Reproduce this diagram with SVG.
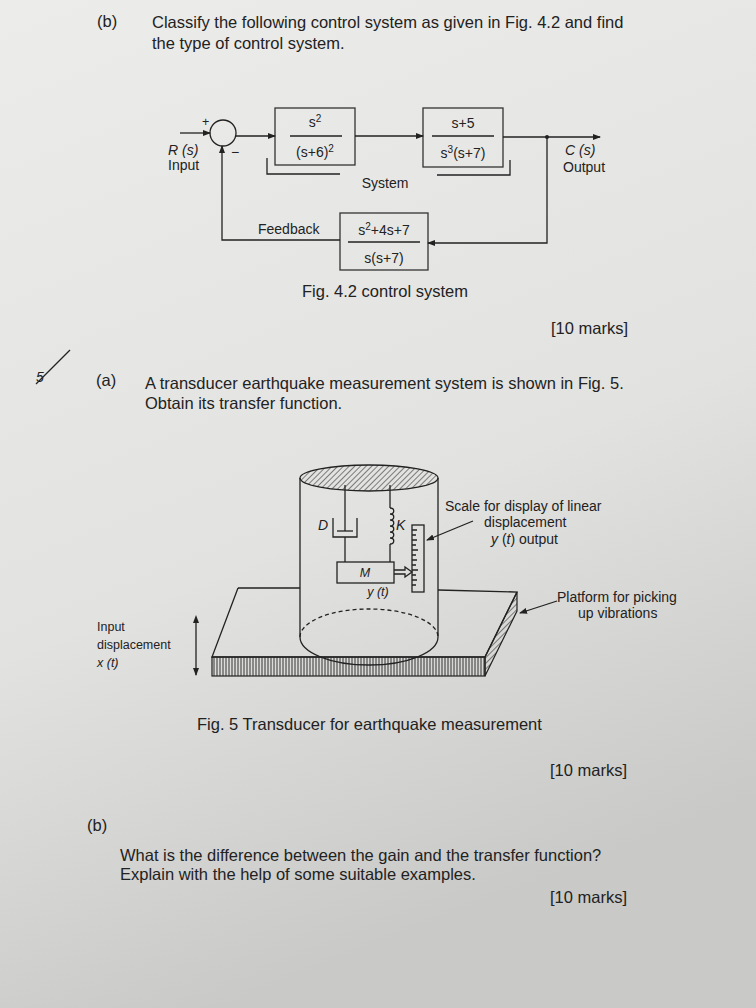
<svg xmlns="http://www.w3.org/2000/svg" width="756" height="1008" viewBox="0 0 756 1008">
<defs>
<linearGradient id="bg" x1="0" y1="0" x2="0.3" y2="1"><stop offset="0" stop-color="#ececea"/><stop offset="0.6" stop-color="#e2e2e0"/><stop offset="1" stop-color="#c9c9c7"/></linearGradient>
<pattern id="hatch" width="4" height="4" patternUnits="userSpaceOnUse" patternTransform="rotate(45)"><line x1="0" y1="0" x2="0" y2="4" stroke="#333" stroke-width="1.2"/></pattern>
<pattern id="vh" width="3" height="10" patternUnits="userSpaceOnUse"><line x1="1" y1="0" x2="1" y2="10" stroke="#333" stroke-width="1"/></pattern>
<marker id="ah" markerWidth="8" markerHeight="6" refX="7" refY="3" orient="auto" markerUnits="userSpaceOnUse"><path d="M0,0 L8,3 L0,6 z" fill="#222"/></marker>
<marker id="ahs" markerWidth="8" markerHeight="6" refX="1" refY="3" orient="auto-start-reverse" markerUnits="userSpaceOnUse"><path d="M0,0 L8,3 L0,6 z" fill="#222"/></marker>
<style>
text{font-family:"Liberation Sans",Arial,sans-serif;fill:#222}
.t{font-size:16.5px}
.s{font-size:14px}
.m{font-size:12.5px}
.l{stroke:#222;stroke-width:1.3;fill:none}
.b{stroke:#333;stroke-width:1.3;fill:none}
</style>
</defs>
<rect width="756" height="1008" fill="url(#bg)"/>
<g id="texts">
<text class="t" x="97" y="27">(b)</text>
<text class="t" x="152" y="28">Classify the following control system as given in Fig. 4.2 and find</text>
<text class="t" x="152" y="49">the type of control system.</text>
<text class="t" x="302" y="297">Fig. 4.2 control system</text>
<text class="t" x="551" y="334">[10 marks]</text>
<text class="t" x="96" y="386">(a)</text>
<text class="t" x="145" y="389">A transducer earthquake measurement system is shown in Fig. 5.</text>
<text class="t" x="145" y="409">Obtain its transfer function.</text>
<text class="t" x="197" y="730">Fig. 5 Transducer for earthquake measurement</text>
<text class="t" x="550" y="776">[10 marks]</text>
<text class="t" x="87" y="831">(b)</text>
<text class="t" x="120" y="861">What is the difference between the gain and the transfer function?</text>
<text class="t" x="120" y="880">Explain with the help of some suitable examples.</text>
<text class="t" x="550" y="903">[10 marks]</text>
<text x="36" y="382" class="s" font-style="italic">5</text>
<line x1="36" y1="384" x2="70" y2="350" class="l"/>
</g>
<g id="sum"><circle cx="223" cy="133" r="13" class="l"/><text class="m" x="202" y="126">+</text><text class="s" x="231" y="157">−</text></g>
<g id="g1"><rect x="275" y="108" width="80" height="57" class="b"/><text class="s" x="315" y="127" text-anchor="middle">s<tspan dy="-5" font-size="10">2</tspan></text><line x1="290" y1="136" x2="342" y2="136" class="l" stroke-width="0.8"/><text class="s" x="315" y="157" text-anchor="middle">(s+6)<tspan dy="-5" font-size="10">2</tspan></text>
<path d="M267,158 V174 H340" class="l"/></g>
<g id="g2"><rect x="423" y="108" width="80" height="59" class="b"/><text class="s" x="463" y="128" text-anchor="middle">s+5</text><line x1="432" y1="136" x2="494" y2="136" class="l" stroke-width="0.8"/><text class="s" x="463" y="158" text-anchor="middle">s<tspan dy="-5" font-size="10">3</tspan><tspan dy="5">(s+7)</tspan></text>
<path d="M437,175 H510 V160" class="l"/></g>
<g id="h"><rect x="340" y="213" width="88" height="57" class="b"/><text class="s" x="384" y="235" text-anchor="middle">s<tspan dy="-5" font-size="10">2</tspan><tspan dy="5">+4s+7</tspan></text><line x1="348" y1="242" x2="420" y2="242" class="l" stroke-width="0.8"/><text class="s" x="384" y="263" text-anchor="middle">s(s+7)</text></g>
<g id="blabels">
<text class="s" x="168" y="155" font-style="italic">R (s)</text><text class="s" x="168" y="170">Input</text>
<text class="s" x="565" y="155" font-style="italic">C (s)</text><text class="s" x="563" y="172">Output</text>
<text class="s" x="385" y="188" text-anchor="middle">System</text>
<text class="s" x="258" y="234">Feedback</text>
</g>
<g id="connectors">
<line x1="180" y1="133" x2="210" y2="133" class="l" marker-end="url(#ah)"/>
<line x1="236" y1="136" x2="275" y2="136" class="l" marker-end="url(#ah)"/>
<line x1="355" y1="136" x2="423" y2="136" class="l" marker-end="url(#ah)"/>
<line x1="503" y1="137" x2="600" y2="137" class="l" marker-end="url(#ah)"/>
<circle cx="547" cy="137" r="2" fill="#222"/>
<polyline points="547,137 547,243 428,243" class="l" marker-end="url(#ah)"/>
<polyline points="340,240 222,240 222,146" class="l" marker-end="url(#ah)"/>
<line x1="473" y1="521" x2="427" y2="540" class="l" marker-end="url(#ah)"/>
<line x1="557" y1="601" x2="520" y2="613" class="l" marker-end="url(#ah)"/>
<line x1="196" y1="622" x2="196" y2="675" class="l" marker-start="url(#ahs)" marker-end="url(#ah)"/>
</g>
<g id="platform">
<path d="M238,588 H300 M438,590 L517,592 L485,657 H212 L238,588" class="l"/>
<rect x="212" y="657" width="273" height="19" fill="url(#vh)" stroke="#222" stroke-width="1.2"/>
<path d="M517,592 L517,611 L485,676 L485,657 Z" fill="url(#hatch)" stroke="#222" stroke-width="1.2"/>
</g>
<g id="cylinder">
<path d="M300,478 V637 M438,478 V637" class="l"/>
<path d="M300,637 A69,28 0 0 0 438,637" class="l"/>
<path d="M300,637 A69,28 0 0 1 438,637" class="l" stroke-dasharray="4,3"/>
<ellipse cx="369" cy="478" rx="69" ry="13" fill="url(#hatch)" stroke="#222" stroke-width="1.3"/>
</g>
<g id="mechanism">
<line x1="345" y1="485" x2="345" y2="531" class="l"/>
<line x1="337" y1="531" x2="353" y2="531" class="l"/>
<path d="M333,518 V537 H357 V518" class="l"/>
<line x1="345" y1="537" x2="345" y2="562" class="l"/>
<line x1="390" y1="485" x2="390" y2="508" class="l"/>
<path d="M390,508 c5,0 5,6 0,6 c5,0 5,6 0,6 c5,0 5,6 0,6 c5,0 5,6 0,6 c5,0 5,6 0,6 c5,0 5,6 0,6" class="l"/>
<line x1="390" y1="544" x2="390" y2="562" class="l"/>
<rect x="337" y="562" width="57" height="21" class="l"/>
<text class="m" x="365" y="577" text-anchor="middle" font-style="italic">M</text>
<path d="M394,570 H405 V567 L412,572 L405,577 V574 H394" class="l" stroke-width="1"/>
<rect x="412" y="525" width="12" height="67" class="l"/>
<path d="M412,530h5M412,535h4M412,540h5M412,545h4M412,550h6M412,555h4M412,560h5M412,565h4M412,570h6M412,575h4M412,580h5M412,585h4" class="l" stroke-width="0.8"/>
<text class="s" x="318" y="530" font-style="italic">D</text>
<text class="s" x="396" y="530" font-style="italic">K</text>
<text class="m" x="378" y="596" text-anchor="middle" font-style="italic">y (t)</text>
</g>
<g id="flabels">
<text class="s" x="445" y="511">Scale for display of linear</text>
<text class="s" x="484" y="527">displacement</text>
<text class="s" x="491" y="544"><tspan font-style="italic">y</tspan> (<tspan font-style="italic">t</tspan>) output</text>
<text class="s" x="557" y="602">Platform for picking</text>
<text class="s" x="578" y="618">up vibrations</text>
<text class="m" x="97" y="631">Input</text>
<text class="m" x="97" y="649">displacement</text>
<text class="m" x="97" y="667" font-style="italic">x (t)</text>
</g>
</svg>
